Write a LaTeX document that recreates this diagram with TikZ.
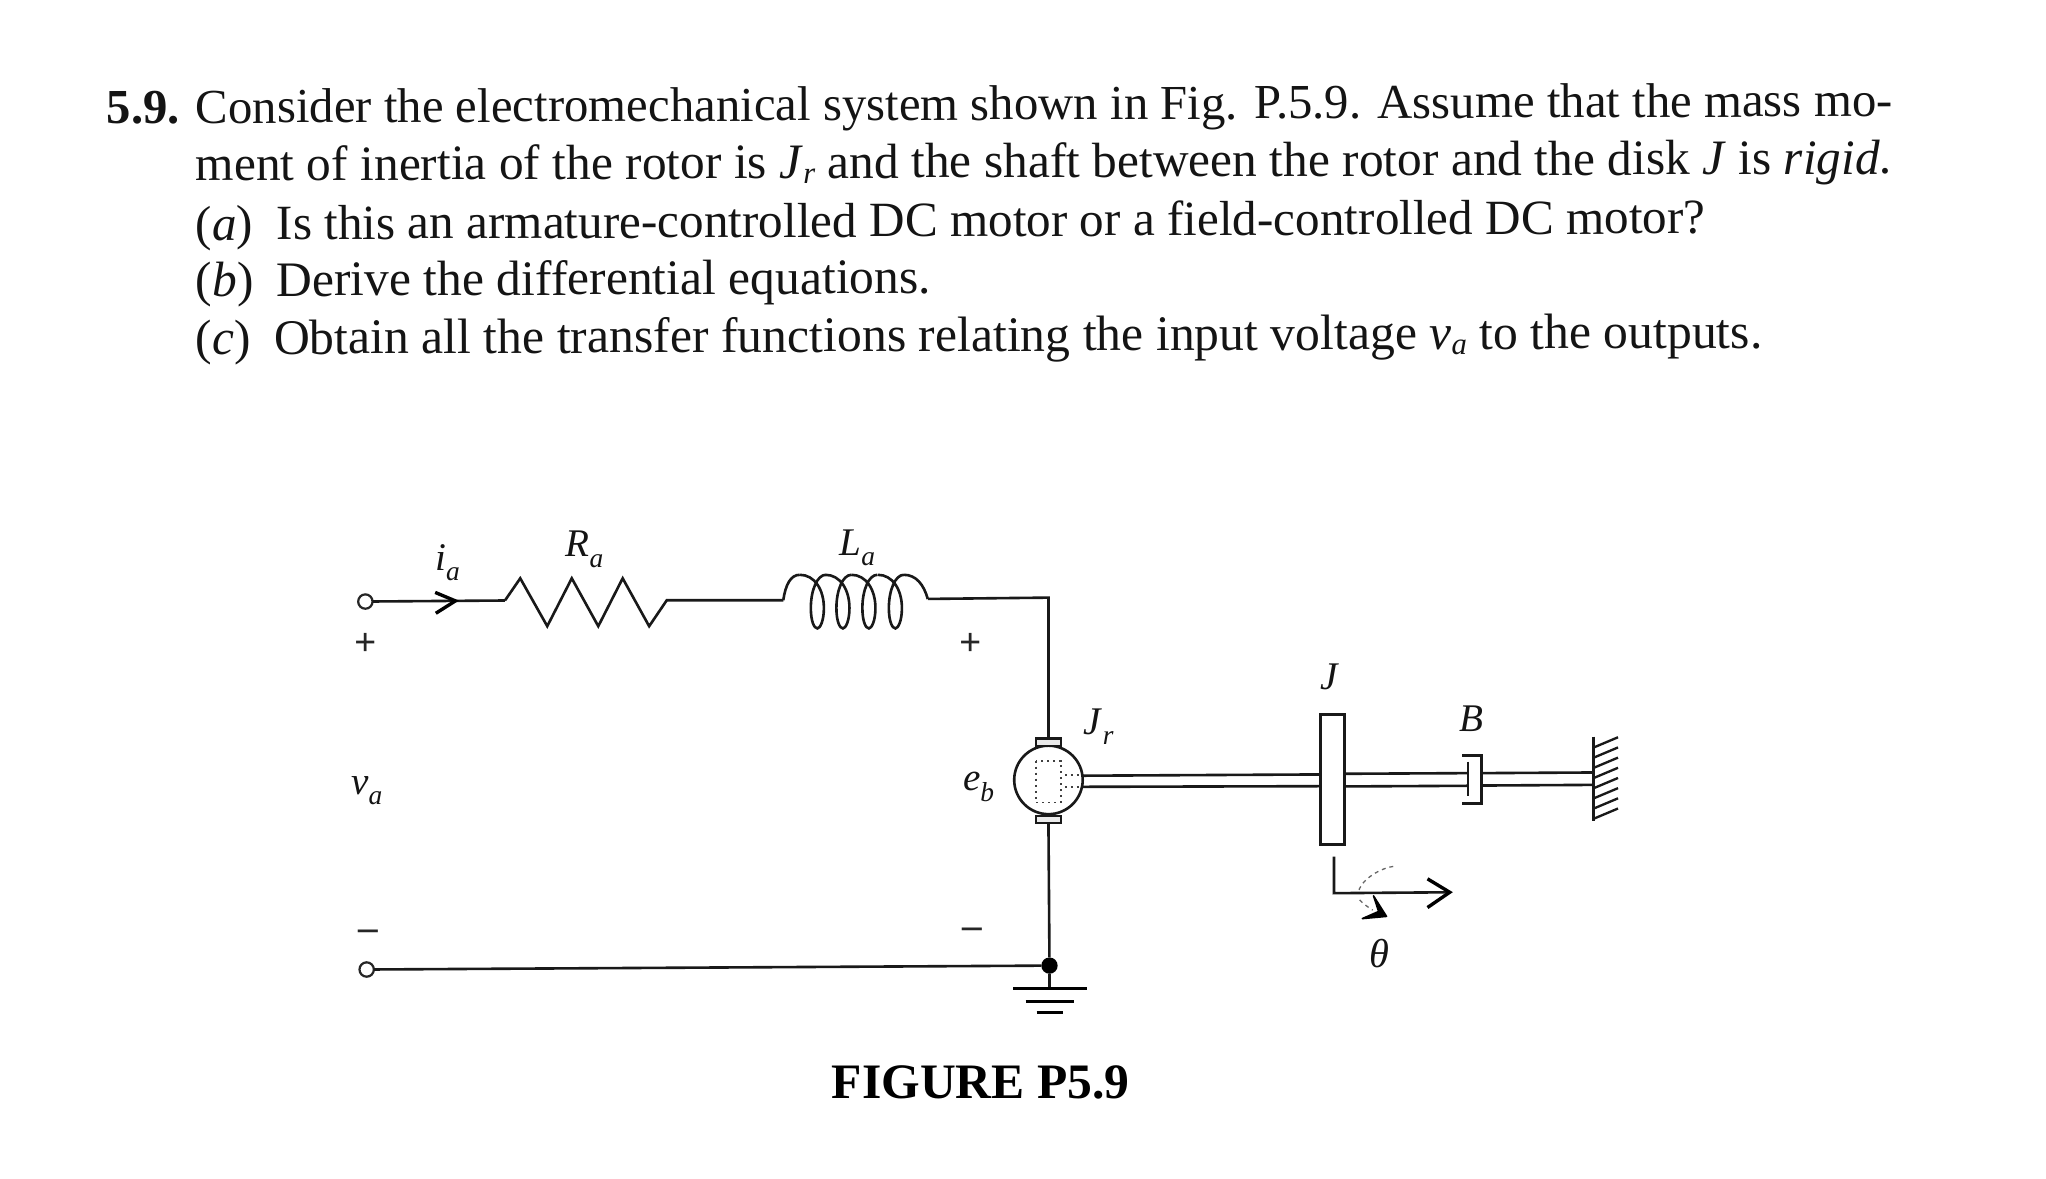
\documentclass[tikz,border=0pt]{standalone}
\usepackage{fontspec}
\setmainfont{Liberation Serif}
\usetikzlibrary{arrows.meta}
\newcommand\sbs[2]{\textit{#1}\raisebox{-.26em}{\scalebox{.7}{\textit{#2}}}}
\newcommand\sbb[2]{\textit{#1}\raisebox{-.1em}{\scalebox{.62}{\textit{#2}}}}
\tikzset{
  x=1pt,y=-1pt,
  wire/.style={line width=2pt,draw=black!90},
  thin part/.style={line width=1.7pt,draw=black!90},
  body/.style={anchor=base west,rotate=0.24,inner sep=0,outer sep=0,text=black!92},
  lab/.style={inner sep=0,text=black!92,font=\fontsize{30}{32}\selectfont},
  sign/.style={inner sep=0,text=black!85,font=\fontsize{30}{32}\selectfont\bfseries},
  terminal/.style={circle,draw=black!85,line width=1.7pt,fill=white,minimum size=11pt,inner sep=0,outer sep=0},
  junction/.style={circle,fill=black,minimum size=12.5pt,inner sep=0,outer sep=0},
  chev/.style={line width=2.6pt,draw=black,line join=miter},
  dots/.style={line width=1.4pt,dash pattern=on 1.4pt off 3.2pt,draw=black!75},
}
\newcommand\fs[1]{\fontsize{#1}{40}\selectfont}
\begin{document}
\begin{tikzpicture}
\useasboundingbox[fill=white] (0,0) rectangle (1568,903);
% text
\node[body,font=\fs{37.4}] (n0) at (82,95) {\textbf{5.9.}};
\node[body,font=\fs{37.4}] (l1) at (150,94.5) {Consider the electromechanical system shown in Fig. P.5.9. Assume that the mass mo-};
\node[body,font=\fs{37.9}] (l2) at (150,138.7) {ment of inertia of the rotor is \sbb{J}{r} and the shaft between the rotor and the disk \textit{J} is \textit{rigid.}};
\node[body,font=\fs{37.7}] (l3a) at (150,184) {(\textit{a})};
\node[body,font=\fs{37.7}] (l3) at (212,183.5) {Is this an armature-controlled DC motor or a field-controlled DC motor?};
\node[body,font=\fs{38}] (l4a) at (150,227) {(\textit{b})};
\node[body,font=\fs{38}] (l4) at (212,227) {Derive the differential equations.};
\node[body,font=\fs{38}] (l5a) at (150,271.5) {(\textit{c})};
\node[body,font=\fs{38.1}] (l5) at (210,271.5) {Obtain all the transfer functions relating the input voltage \sbb{v}{a} to the outputs.};
% circuit
\node[terminal] (t1) at (280,461) {};
\node[terminal] (t2) at (281,743) {};
\node[junction] (gnd) at (804.3,740) {};
\coordinate (arrowtip) at (349,460.5);
\coordinate (r0) at (387,460.2);
\coordinate (r1) at (511,460);
\coordinate (c0) at (600.3,460);
\coordinate (c1) at (711,459);
\coordinate (corner) at (803.5,458);
\coordinate (mt) at (803.5,566);
\coordinate (mb) at (803.5,631);
\draw[wire] (t1) -- (r0);
\draw[chev,fill=none] (333.5,454) -- (arrowtip) -- (334,470);
\draw[wire,line join=miter] (r0) -- (398.7,443.2) -- (419.4,479.9) -- (438.2,443.2) -- (458.5,479.9) -- (477.2,443.2) -- (497.5,479.9) -- (r1) -- (c0);
\draw[wire] (c0) .. controls (602,448) and (606,440.5) .. (612.9,440.5);
\foreach \c in {626.4,646,665.9,686.2}{
  \draw[wire] (\c-13.5,440.5) .. controls (\c-2,440.5) and (\c+5,452) .. (\c+5,466)
     .. controls (\c+5,476) and (\c+2,481.6) .. (\c,481.6)
     .. controls (\c-2.5,481.6) and (\c-5,476) .. (\c-5,466)
     .. controls (\c-5,452) and (\c,440.5) .. (\c+6.5,440.5);
}
\draw[wire] (692.7,440.5) .. controls (702,440.5) and (708,448) .. (c1);
\draw[wire] (c1) -- (corner) -- (mt);
\draw[wire] (mb) -- (gnd);
\draw[wire] (t2) -- (gnd);
% ground
\coordinate (g1) at (804.3,757);
\draw[wire] (gnd) -- (g1);
\draw[line width=2.4pt,draw=black] (776.5,757.3) -- (832.8,757.3);
\draw[line width=2.4pt,draw=black] (786,767.5) -- (823,767.5);
\draw[line width=2.4pt,draw=black] (794.5,775.8) -- (814.4,775.8);
% shafts
\draw[wire] (825,594.5) -- (1012,593.5);
\draw[wire] (825,603) -- (1012,602.5);
\draw[wire] (1030,593) -- (1125,592.5);
\draw[wire] (1030,602.7) -- (1125,602.2);
\draw[wire] (1135.4,592.5) -- (1221,592);
\draw[wire] (1135.4,602) -- (1221,601.5);
% motor
\node[draw=black!90,line width=2pt,fill=white,circle,minimum size=52.5pt,inner sep=0] (motor) at (803.5,597.7) {};
\draw[thin part,fill=black!8] (794,566) rectangle (813,571.5);
\draw[thin part,fill=black!8] (794,625.2) rectangle (813,631);
\draw[dots] (794,583) rectangle (813,615);
\draw[dots] (816,594) -- (829,594);
\draw[dots] (816,603) -- (829,603);
% disk
\draw[wire,fill=white] (1011.8,547.5) rectangle (1030.6,647);
% damper
\draw[wire] (1125,583.6) -- (1125,610.3);
\draw[wire] (1120.6,579) -- (1135.4,579) -- (1135.4,616) -- (1120.6,616);
% wall
\draw[wire] (1221,564.5) -- (1221,629.4);
\foreach \h in {0,...,7}{
  \draw[line width=1.8pt,draw=black!90] (1221,{573+\h*7.8}) -- (1240,{565+\h*7.8});
}
% angle symbol
\coordinate (a0) at (1022.3,656.4);
\coordinate (a1) at (1022.3,684.5);
\coordinate (a2) at (1111,683.8);
\draw[wire] (a0) -- (a1) -- (a2);
\draw[chev] (1094,673.5) -- (a2) -- (1094,695.5);
\draw[line width=1pt,draw=black!60,dashed] (1067.7,664) .. controls (1055,666) and (1042,676) .. (1041,684);
\draw[line width=1pt,draw=black!60,dashed] (1042,689.6) .. controls (1044,692) and (1048,695) .. (1052,697.5);
\draw[line width=1.2pt,draw=black,fill=black,line join=round] (1052.6,686.5) -- (1062.6,702.3) -- (1044,704) -- (1056.5,698.5) -- cycle;
% labels
\node[lab] (ia) at (343,431) {\sbs{i}{a}};
\node[lab] (ra) at (448,421) {\sbs{R}{a}};
\node[lab] (la) at (657,420) {\sbs{L}{a}};
\node[lab] (va) at (281,606) {\sbs{v}{a}};
\node[lab] (eb) at (750,603) {\sbs{e}{b}};
\node[lab] (jr) at (842,557) {\sbs{J}{r}};
\node[lab] (jj) at (1019,519) {\textit{J}};
\node[lab] (bb) at (1128,551) {\textit{B}};
\node[lab,font=\fontsize{31}{32}\selectfont] (th) at (1057.5,731) {\textit{θ}};
\node[sign] (p1) at (280,493.5) {+};
\node[sign] (p2) at (744,493.5) {+};
\node[sign] (m1) at (282,717) {--};
\node[sign] (m2) at (745,715) {--};
\node[inner sep=0,anchor=base,font=\fs{38}\bfseries] (cap) at (751.5,842) {FIGURE P5.9};
\end{tikzpicture}
\end{document}
